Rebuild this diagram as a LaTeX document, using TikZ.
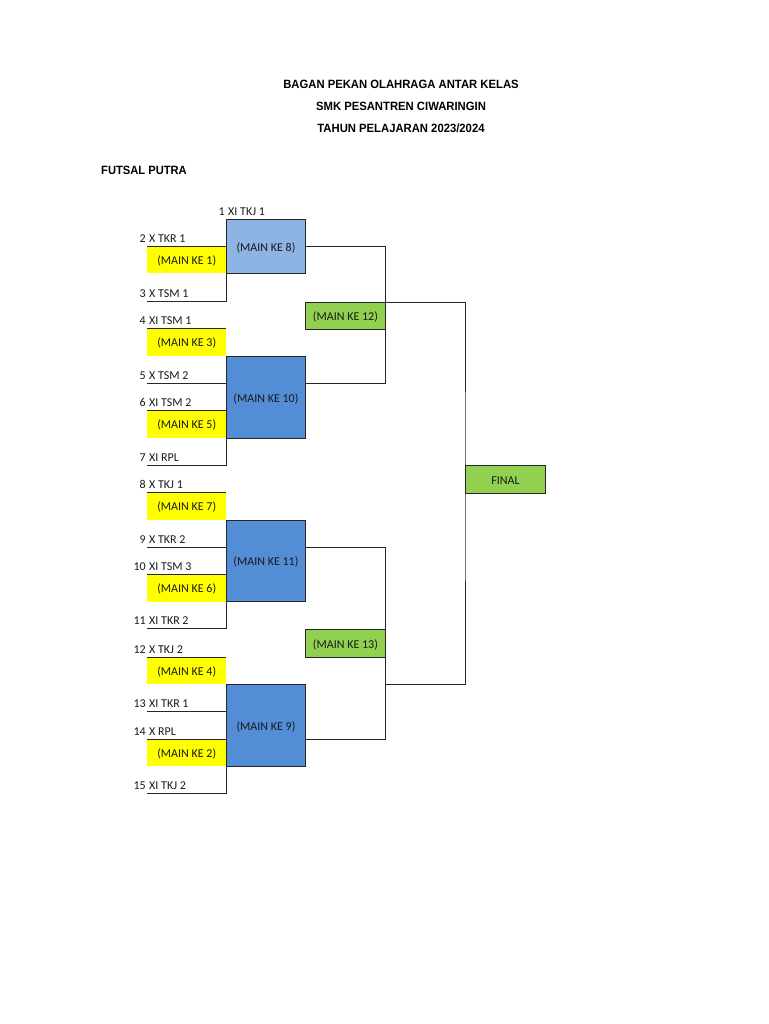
\documentclass[tikz,border=0pt]{standalone}
\usepackage{fontspec}
\setmainfont{Carlito}
\newfontfamily\titlefont{Liberation Sans}
\definecolor{ybox}{HTML}{FFFF00}
\definecolor{lblue}{HTML}{8DB4E2}
\definecolor{mblue}{HTML}{538DD5}
\definecolor{gbox}{HTML}{92D050}
\begin{document}
\begin{tikzpicture}[x=1pt,y=-1pt,
  lbl/.style={font=\fontsize{12}{14}\selectfont, inner sep=0pt, text=black!90},
  team/.style={lbl, anchor=base west},
  num/.style={lbl, anchor=base east},
  ttl/.style={font=\titlefont\bfseries\fontsize{12}{14}\selectfont, inner sep=0pt, anchor=base},
  ln/.style={line width=0.9pt, black!85},
  boxtext/.style={lbl, text height=11.5pt, text depth=2pt},
  yb/.style={boxtext, fill=ybox, minimum width=79pt, anchor=north west},
  bb/.style={boxtext, fill=mblue, draw=black!85, line width=0.9pt, minimum width=79pt, anchor=north west},
  lb/.style={bb, fill=lblue},
  gb/.style={boxtext, fill=gbox, draw=black!85, line width=0.9pt, minimum width=80pt, anchor=north west},
]
\useasboundingbox[fill=white] (0,0) rectangle (768,1024);

% titles
\node[ttl] (t1) at (401,88.3) {\scalebox{0.94}[1]{BAGAN PEKAN OLAHRAGA ANTAR KELAS}};
\node[ttl] (t2) at (401,110.3) {\scalebox{0.94}[1]{SMK PESANTREN CIWARINGIN}};
\node[ttl] (t3) at (401,132.3) {\scalebox{0.94}[1]{TAHUN PELAJARAN 2023/2024}};
\node[ttl, anchor=base west] (sub) at (101,174.3) {\scalebox{0.93}[1]{FUTSAL PUTRA}};

% team line start coordinates
\coordinate (a3) at (147,301);
\coordinate (a5) at (147,383);
\coordinate (a7) at (147,465);
\coordinate (a9) at (147,547);
\coordinate (a11) at (147,628);
\coordinate (a13) at (147,711);
\coordinate (a15) at (147,793);
\coordinate (a14) at (147,739);

% yellow boxes (first round)
\node[yb, minimum height=27pt] (k1) at (147,246) {(MAIN KE 1)};
\node[yb, minimum height=28pt] (k3) at (147,328) {(MAIN KE 3)};
\node[yb, minimum height=28pt] (k5) at (147,410) {(MAIN KE 5)};
\node[yb, minimum height=28pt] (k7) at (147,492) {(MAIN KE 7)};
\node[yb, minimum height=28pt] (k6) at (147,574) {(MAIN KE 6)};
\node[yb, minimum height=27pt] (k4) at (147,657) {(MAIN KE 4)};
\node[yb, minimum height=27pt] (k2) at (147,739) {(MAIN KE 2)};

% team lines
\draw[ln] (k1.north west) -- (k1.north east);
\draw[ln] (a3) -| (k1.south east);
\draw[ln] (k3.north west) -- (k3.north east);
\draw[ln] (a5) -- (a5 -| k3.east);
\draw[ln] (k5.north west) -- (k5.north east);
\draw[ln] (a7) -| (k5.south east);
\draw[ln] (k7.north west) -- (k7.north east);
\draw[ln] (a9) -- (a9 -| k7.east);
\draw[ln] (k6.north west) -- (k6.north east);
\draw[ln] (a11) -| (k6.south east);
\draw[ln] (k4.north west) -- (k4.north east);
\draw[ln] (a13) -- (a13 -| k4.east);
\draw[ln] (k2.north west) -- (k2.north east);
\draw[ln] (a15) -| (k2.south east);

% second round boxes
\node[lb, minimum height=54pt] (k8) at (226,219) {(MAIN KE 8)};
\node[bb, minimum height=82pt] (k10) at (226,356) {(MAIN KE 10)};
\node[bb, minimum height=81pt] (k11) at (226,520) {(MAIN KE 11)};
\node[bb, minimum height=82pt] (k9) at (226,684) {(MAIN KE 9)};

% semifinal boxes
\node[gb, minimum height=27pt] (k12) at (305,302) {(MAIN KE 12)};
\node[gb, minimum height=28pt] (k13) at (305,629) {(MAIN KE 13)};
\node[gb, minimum height=28pt] (fin) at (465,465) {FINAL};

% bracket connectors
\draw[ln] (k8.east) -| (k12.east) |- (a5 -| k10.east);
\draw[ln] (a9 -| k11.east) -| (k13.east) |- (a14 -| k9.east);
\draw[ln] (k12.north east) -| (fin.west) |- (k9.north -| k13.east);

% team labels
\node[num] (n1) at (225,215.5) {1};
\node[team] (m1) at (228,215.5) {XI TKJ 1};
\node[num] (n2) at (146,242.5) {2};
\node[team] (m2) at (149,242.5) {X TKR 1};
\node[num] (n3) at (146,297.5) {3};
\node[team] (m3) at (149,297.5) {X TSM 1};
\node[num] (n4) at (146,324.5) {4};
\node[team] (m4) at (149,324.5) {XI TSM 1};
\node[num] (n5) at (146,379.5) {5};
\node[team] (m5) at (149,379.5) {X TSM 2};
\node[num] (n6) at (146,406.5) {6};
\node[team] (m6) at (149,406.5) {XI TSM 2};
\node[num] (n7) at (146,461.5) {7};
\node[team] (m7) at (149,461.5) {XI RPL};
\node[num] (n8) at (146,488.5) {8};
\node[team] (m8) at (149,488.5) {X TKJ 1};
\node[num] (n9) at (146,543.5) {9};
\node[team] (m9) at (149,543.5) {X TKR 2};
\node[num] (n10) at (146,570.5) {10};
\node[team] (m10) at (149,570.5) {XI TSM 3};
\node[num] (n11) at (146,624.5) {11};
\node[team] (m11) at (149,624.5) {XI TKR 2};
\node[num] (n12) at (146,653.5) {12};
\node[team] (m12) at (149,653.5) {X TKJ 2};
\node[num] (n13) at (146,707.5) {13};
\node[team] (m13) at (149,707.5) {XI TKR 1};
\node[num] (n14) at (146,735.5) {14};
\node[team] (m14) at (149,735.5) {X RPL};
\node[num] (n15) at (146,789.5) {15};
\node[team] (m15) at (149,789.5) {XI TKJ 2};
\end{tikzpicture}
\end{document}
